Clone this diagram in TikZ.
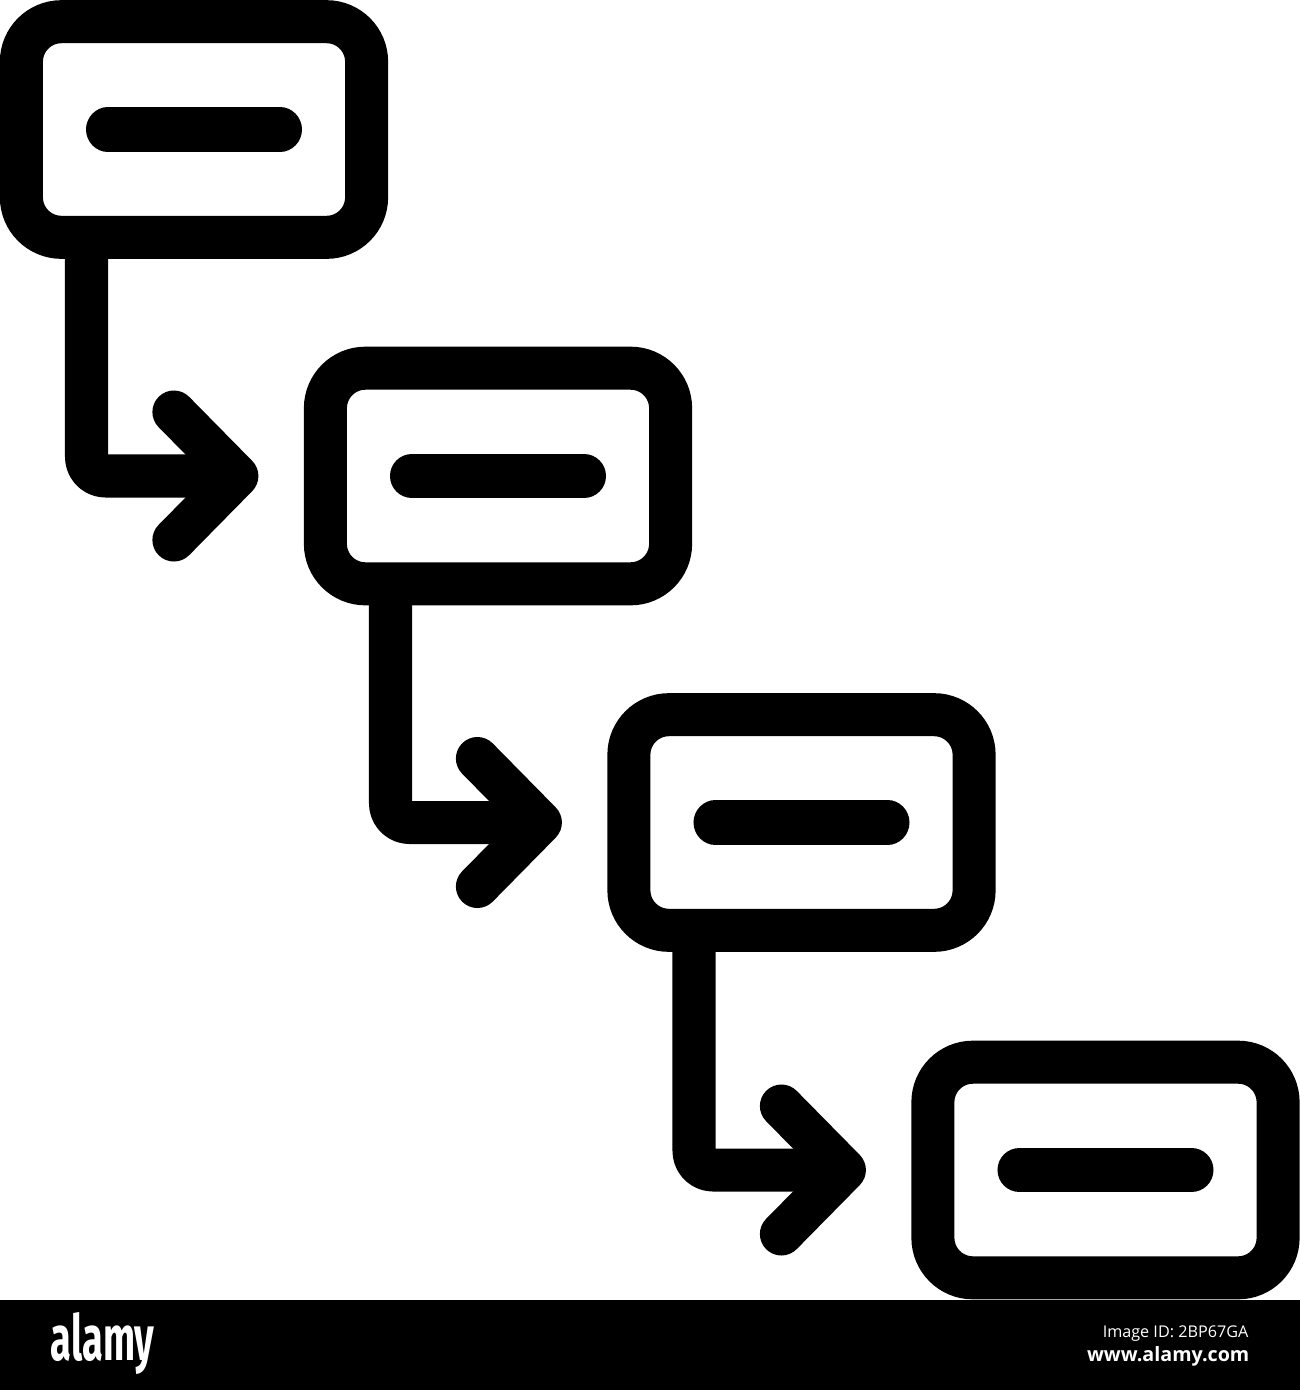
\documentclass[tikz,border=0pt]{standalone}
\usepackage{fontspec}
\setsansfont{Open Sans}
\newfontfamily\logofont{Fira Sans}
\usetikzlibrary{positioning, calc}

\begin{document}
\begin{tikzpicture}[
    x=0.01cm, y=-0.01cm,
    stepbox/.style={rectangle, draw, rounded corners=0.4cm, line width=0.43cm, minimum width=3.45cm, minimum height=2.155cm, inner sep=0pt, outer sep=0pt},
    dashline/.style={line width=0.44cm, line cap=round},
    connection/.style={line width=0.43cm, rounded corners=0.19cm, line join=round},
    chevron/.style={line width=0.43cm, line cap=round, line join=round},
    footnote/.style={text=white, inner sep=0pt}
]
\useasboundingbox (0,0) rectangle (1300,1390);

% Step boxes
\node[stepbox] (box1) at (194,129.5) {};
\node[stepbox] (box2) at (498,476) {};
\node[stepbox] (box3) at (801.5,822.5) {};
\node[stepbox] (box4) at (1105.5,1170) {};

% Bars inside the boxes
\foreach \i in {1,2,3,4} {
    \draw[dashline] ([shift={(-86,0)}]box\i.center) -- ([shift={(86,0)}]box\i.center);
}

% Connections from box to box
\foreach \i/\j in {1/2,2/3,3/4} {
    \coordinate (tip\i) at ([shift={(-88.5,0)}]box\j.west);
    \draw[connection] ([shift={(-107.5,0)}]box\i.south) |- (tip\i);
    \draw[chevron] ([shift={(-63,-64)}]tip\i) -- (tip\i) -- ([shift={(-63,64)}]tip\i);
}

% Footer
\fill (0,1300) rectangle (1300,1390);
\node[footnote, anchor=base west] (logo) at (50,1360) {\logofont\bfseries\fontsize{18}{18}\selectfont\scalebox{0.6}[1]{alamy}};
\node[footnote, anchor=base east, font=\sffamily\fontsize{4.6}{5}\selectfont] (imageid) at (1249,1337) {Image ID: 2BP67GA};
\node[footnote, anchor=base east, font=\sffamily\bfseries\fontsize{5.6}{6}\selectfont] (website) at (1250,1361) {www.alamy.com};

\end{tikzpicture}
\end{document}
